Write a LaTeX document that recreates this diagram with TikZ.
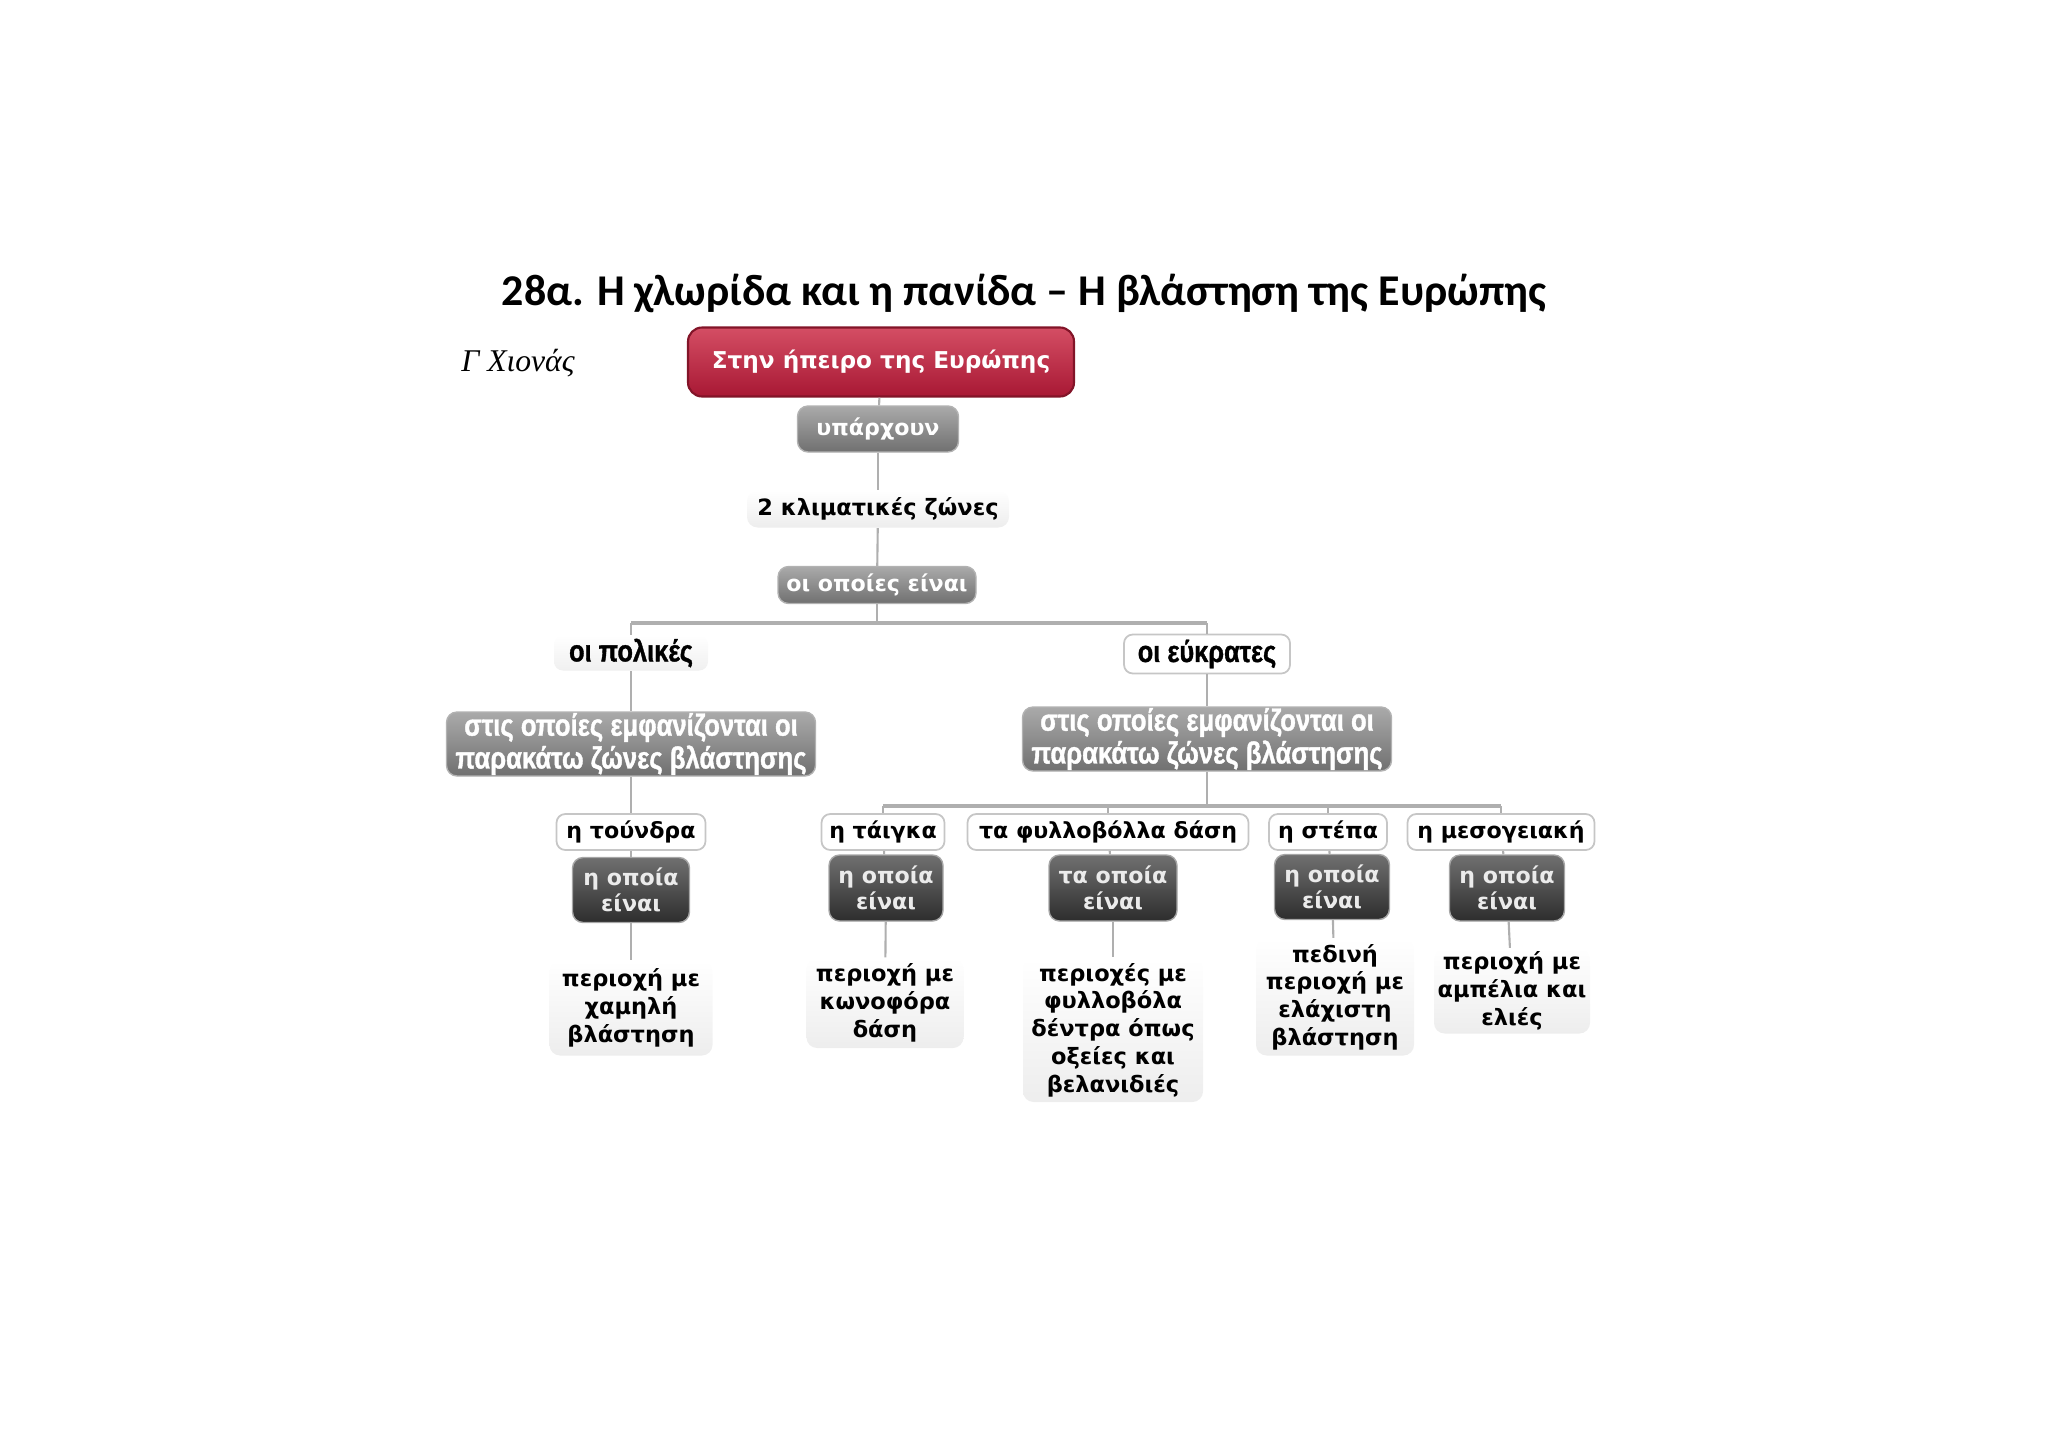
\documentclass[tikz,border=0pt]{standalone}
\usepackage{fontspec}
\setmainfont{DejaVu Sans}
\newfontfamily\titlefont{Carlito}
\newfontfamily\narrowfont[FakeStretch=0.84, FakeBold=1.2]{Liberation Sans Bold}
\newfontfamily\signfont{Liberation Serif}
\definecolor{redtop}{RGB}{212,78,100}
\definecolor{redbot}{RGB}{168,24,52}
\definecolor{redline}{RGB}{130,20,40}
\definecolor{greytop}{RGB}{170,170,170}
\definecolor{greybot}{RGB}{112,112,112}
\definecolor{darktop}{RGB}{112,112,112}
\definecolor{darkbot}{RGB}{45,45,45}
\definecolor{linkgrey}{RGB}{175,175,175}

\begin{document}
\begin{tikzpicture}[x=0.1mm,y=-0.1mm]
\tikzstyle{every node}+=[inner sep=0pt, align=center]
\tikzstyle{link}=[draw=linkgrey, line width=0.6pt]
\tikzstyle{bar}=[draw=linkgrey, line width=0.9pt]
\tikzstyle{redbox}=[rounded corners=4pt, draw=redline, line width=0.6pt, top color=redtop, bottom color=redbot, text=white, font=\bfseries\fontsize{6.6}{8}\selectfont]
\tikzstyle{greybox}=[rounded corners=3pt, draw=gray!60, line width=0.4pt, top color=greytop, bottom color=greybot, text=white, font=\bfseries\fontsize{6.3}{7.5}\selectfont]
\tikzstyle{widegrey}=[greybox, font=\narrowfont\fontsize{8.7}{8.2}\selectfont]
\tikzstyle{darkbox}=[rounded corners=3pt, draw=gray!70, line width=0.4pt, top color=darktop, bottom color=darkbot, text=white!92!black, font=\bfseries\fontsize{6.3}{7.5}\selectfont]
\tikzstyle{whitebox}=[rounded corners=2.5pt, draw=gray!45, line width=0.5pt, fill=white, font=\bfseries\fontsize{6.3}{7.5}\selectfont]
\tikzstyle{narrowbox}=[whitebox, font=\narrowfont\fontsize{8.6}{9}\selectfont]
\tikzstyle{softbox}=[rounded corners=3pt, top color=white, bottom color=gray!14, font=\bfseries\fontsize{6.4}{7.9}\selectfont]
\useasboundingbox (0,0) rectangle (2048,1448);

% title and signature
\node (title) at (1024,293) {\titlefont\bfseries\fontsize{12.5}{14}\selectfont 28α. Η χλωρίδα και η πανίδα – Η βλάστηση της Ευρώπης};
\node (sign) at (518,363) {\signfont\itshape\fontsize{9}{11}\selectfont Γ Χιονάς};

% top of the map
\node[redbox, minimum width=38.6mm, minimum height=6.9mm] (europe) at (881,362) {Στην ήπειρο της Ευρώπης};
\node[greybox, minimum width=16.1mm, minimum height=4.6mm] (exist) at (878,429) {υπάρχουν};
\node[softbox, minimum width=26.2mm, minimum height=3.7mm] (zones) at (878,509) {2 κλιματικές ζώνες};
\node[greybox, minimum width=19.8mm, minimum height=3.7mm] (which) at (877,585) {οι οποίες είναι};

% the two zones
\node[narrowbox, draw=none, top color=white, bottom color=gray!12, minimum width=15.4mm, minimum height=3.5mm] (polar) at (631,653) {οι πολικές};
\node[narrowbox, minimum width=16.6mm, minimum height=3.9mm] (temper) at (1207,654) {οι εύκρατες};
\node[widegrey, minimum width=36.9mm, minimum height=6.4mm] (polarveg) at (631,744) {στις οποίες εμφανίζονται οι\\παρακάτω ζώνες βλάστησης};
\node[widegrey, minimum width=36.9mm, minimum height=6.4mm] (temperveg) at (1207,739) {στις οποίες εμφανίζονται οι\\παρακάτω ζώνες βλάστησης};

% vegetation zones
\node[whitebox, minimum width=14.9mm, minimum height=3.6mm] (tundra) at (631,832) {η τούνδρα};
\node[whitebox, minimum width=12.3mm, minimum height=3.6mm] (taiga) at (883,832) {η τάιγκα};
\node[whitebox, minimum width=28.1mm, minimum height=3.6mm] (decid) at (1108,832) {τα φυλλοβόλλα δάση};
\node[whitebox, minimum width=11.8mm, minimum height=3.6mm] (steppe) at (1328,832) {η στέπα};
\node[whitebox, minimum width=18.7mm, minimum height=3.6mm] (medit) at (1501,832) {η μεσογειακή};

\node[darkbox, minimum width=11.7mm, minimum height=6.5mm] (tundraw) at (631,890) {η οποία\\είναι};
\node[darkbox, minimum width=11.4mm, minimum height=6.6mm] (taigaw) at (886,888) {η οποία\\είναι};
\node[darkbox, minimum width=12.8mm, minimum height=6.6mm] (decidw) at (1113,888) {τα οποία\\είναι};
\node[darkbox, minimum width=11.5mm, minimum height=6.5mm] (steppew) at (1332,887) {η οποία\\είναι};
\node[darkbox, minimum width=11.5mm, minimum height=6.6mm] (meditw) at (1507,888) {η οποία\\είναι};

\node[softbox, minimum width=16.3mm, minimum height=9.5mm] (tundrad) at (631,1008) {περιοχή με\\χαμηλή\\βλάστηση};
\node[softbox, minimum width=15.7mm, minimum height=9mm] (taigad) at (885,1003) {περιοχή με\\κωνοφόρα\\δάση};
\node[softbox, minimum width=18mm, minimum height=14.4mm] (decidd) at (1113,1030) {περιοχές με\\φυλλοβόλα\\δέντρα όπως\\οξείες και\\βελανιδιές};
\node[softbox, minimum width=15.8mm, minimum height=11.7mm] (stepped) at (1335,997) {πεδινή\\περιοχή με\\ελάχιστη\\βλάστηση};
\node[softbox, minimum width=15.6mm, minimum height=8.5mm] (meditd) at (1512,991) {περιοχή με\\αμπέλια και\\ελιές};

% connectors
\coordinate (bartop) at (0,623);
\coordinate (barlow) at (0,806);
\draw[link] (europe) -- (exist);
\draw[link] (exist) -- (zones);
\draw[link] (zones) -- (which);
\draw[link] (which.south) -- (which.south |- bartop);
\draw[bar] (polar.north |- bartop) -- (temper.north |- bartop);
\draw[link] (polar.north |- bartop) -- (polar.north);
\draw[link] (temper.north |- bartop) -- (temper.north);
\draw[link] (polar) -- (polarveg);
\draw[link] (temper) -- (temperveg);
\draw[link] (polarveg) -- (tundra);
\draw[link] (temperveg.south) -- (temperveg.south |- barlow);
\draw[bar] (taiga.north |- barlow) -- (medit.north |- barlow);
\foreach \z in {taiga,decid,steppe,medit}
  \draw[link] (\z.north |- barlow) -- (\z.north);
\foreach \z in {tundra,taiga,decid,steppe,medit} {
  \draw[link] (\z) -- (\z w);
  \draw[link] (\z w) -- (\z d);
}
\end{tikzpicture}
\end{document}
